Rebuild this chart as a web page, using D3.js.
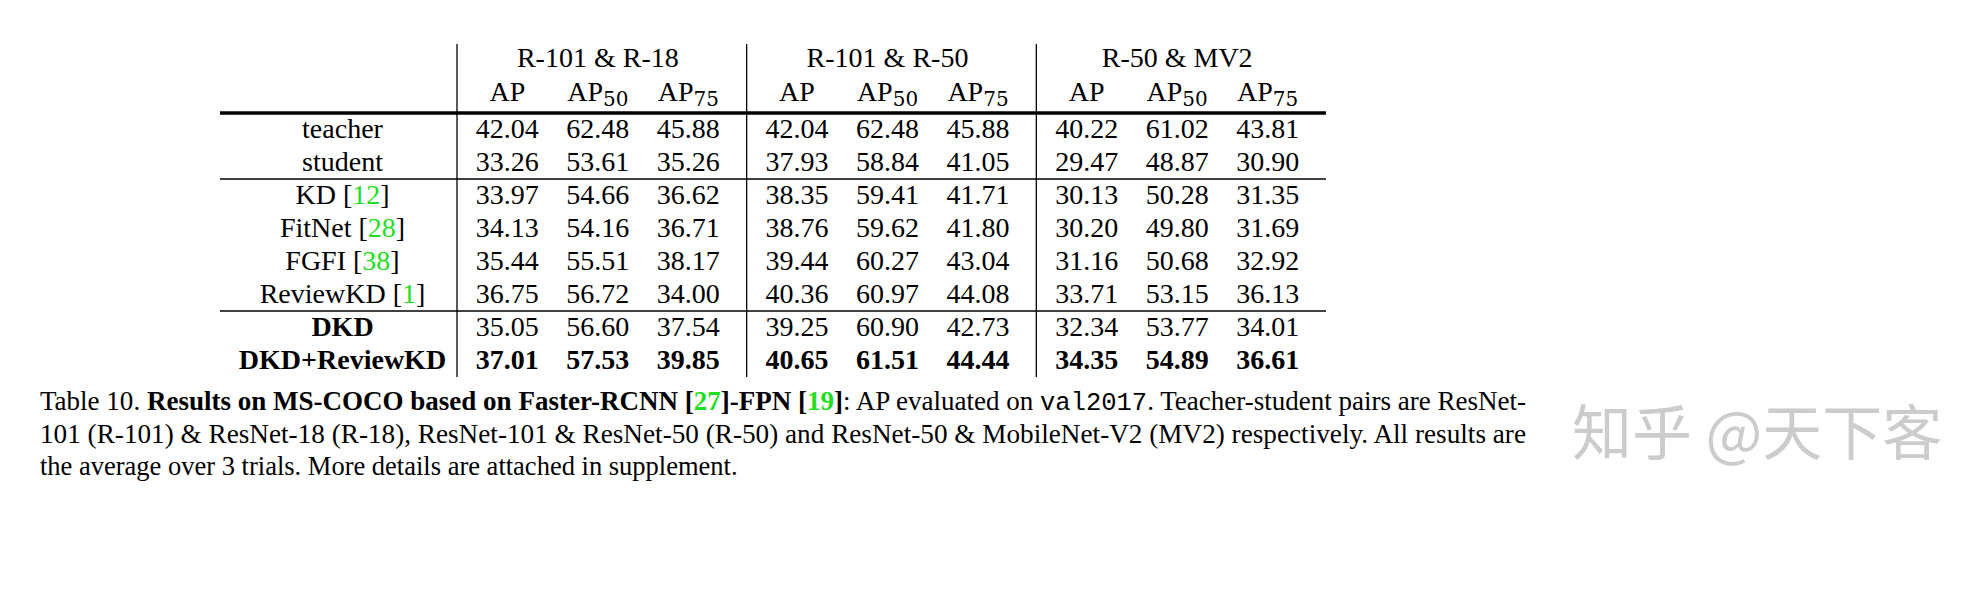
<!DOCTYPE html>
<html lang="en">
<head>
<meta charset="UTF-8" />
<title>Table 10</title>
<script src="https://cdnjs.cloudflare.com/ajax/libs/d3/7.9.0/d3.min.js"></script>
<style>
  body { margin: 0; background: #fff; }
  svg { font-family: "Liberation Serif", "DejaVu Serif", serif; }
  .cell { font-size: 28px; fill: #000; }
  .bold { font-weight: bold; }
  .cite { fill: #22dd22; }
  .cap { font-size: 26.5px; }
  .mono { font-family: "Liberation Mono", monospace; font-size: 25px; }
</style>
</head>
<body>
<svg width="1987" height="615"></svg>
<script>
const groups = ["R-101 & R-18", "R-101 & R-50", "R-50 & MV2"];
const metrics = [["AP", ""], ["AP", "50"], ["AP", "75"]];
const methods = [
  { name: "teacher", cite: "" },
  { name: "student", cite: "" },
  { name: "KD", cite: "12" },
  { name: "FitNet", cite: "28" },
  { name: "FGFI", cite: "38" },
  { name: "ReviewKD", cite: "1" },
  { name: "DKD", cite: "", bold: true },
  { name: "DKD+ReviewKD", cite: "", bold: true }
];
const values = [
  [42.04, 62.48, 45.88, 42.04, 62.48, 45.88, 40.22, 61.02, 43.81],
  [33.26, 53.61, 35.26, 37.93, 58.84, 41.05, 29.47, 48.87, 30.90],
  [33.97, 54.66, 36.62, 38.35, 59.41, 41.71, 30.13, 50.28, 31.35],
  [34.13, 54.16, 36.71, 38.76, 59.62, 41.80, 30.20, 49.80, 31.69],
  [35.44, 55.51, 38.17, 39.44, 60.27, 43.04, 31.16, 50.68, 32.92],
  [36.75, 56.72, 34.00, 40.36, 60.97, 44.08, 33.71, 53.15, 36.13],
  [35.05, 56.60, 37.54, 39.25, 60.90, 42.73, 32.34, 53.77, 34.01],
  [37.01, 57.53, 39.85, 40.65, 61.51, 44.44, 34.35, 54.89, 36.61]
];
const boldRows = [false, false, false, false, false, false, false, true];

const svg = d3.select("svg");
const tableLeft = 220, tableRight = 1326, labelRight = 457;

// one band per teacher-student pair, 3 metric sub-columns inside
const xGroup = d3.scaleBand().domain(d3.range(groups.length)).range([labelRight, tableRight]);
const xSub = d3.scaleBand().domain(d3.range(metrics.length)).range([0, xGroup.bandwidth()]).paddingOuter(0.1);
const colX = (g, m) => xGroup(g) + xSub(m) + xSub.bandwidth() / 2 - 4;

const yRow = d3.scaleBand().domain(d3.range(methods.length)).range([112, 375]);
const rowY = (i) => yRow(i) + yRow.bandwidth() / 2 + 10;

// header
groups.forEach((g, gi) => {
  svg.append("text").attr("class", "cell").attr("x", xGroup(gi) + xGroup.bandwidth() / 2 - 4)
    .attr("y", 67).attr("text-anchor", "middle").text(g);
  metrics.forEach((m, mi) => {
    const t = svg.append("text").attr("class", "cell").attr("x", colX(gi, mi)).attr("y", 101)
      .attr("text-anchor", "middle");
    t.append("tspan").text(m[0]);
    if (m[1]) t.append("tspan").attr("dy", 5).attr("font-size", 20).attr("font-family", "DejaVu Serif").text(m[1]);
  });
});

// rules
svg.append("line").attr("x1", tableLeft).attr("x2", tableRight).attr("y1", 113).attr("y2", 113)
  .attr("stroke", "#000").attr("stroke-width", 3.5);
[179, 311].forEach(y => svg.append("line").attr("x1", tableLeft).attr("x2", tableRight)
  .attr("y1", y).attr("y2", y).attr("stroke", "#000").attr("stroke-width", 1.5));
[labelRight, xGroup(1), xGroup(2)].forEach(x => svg.append("line").attr("x1", x).attr("x2", x)
  .attr("y1", 44).attr("y2", 377).attr("stroke", "#000").attr("stroke-width", 1.3));

// rows
methods.forEach((m, i) => {
  const t = svg.append("text").attr("class", "cell" + (m.bold ? " bold" : ""))
    .attr("x", (tableLeft + labelRight) / 2 + 4).attr("y", rowY(i)).attr("text-anchor", "middle");
  t.append("tspan").text(m.name);
  if (m.cite) {
    t.append("tspan").text(" [");
    t.append("tspan").attr("class", "cite").text(m.cite);
    t.append("tspan").text("]");
  }
  values[i].forEach((v, j) => {
    svg.append("text").attr("class", "cell" + (boldRows[i] ? " bold" : ""))
      .attr("x", colX(Math.floor(j / 3), j % 3)).attr("y", rowY(i)).attr("text-anchor", "middle")
      .text(v.toFixed(2));
  });
});

// caption
const capX = 40, capW = 1486;
const l1 = svg.append("text").attr("class", "cap").attr("x", capX).attr("y", 410)
  .attr("textLength", capW).attr("lengthAdjust", "spacingAndGlyphs");
l1.append("tspan").text("Table 10. ");
l1.append("tspan").attr("font-weight", "bold").text("Results on MS-COCO based on Faster-RCNN [");
l1.append("tspan").attr("class", "cite").attr("font-weight", "bold").text("27");
l1.append("tspan").attr("font-weight", "bold").text("]-FPN [");
l1.append("tspan").attr("class", "cite").attr("font-weight", "bold").text("19");
l1.append("tspan").attr("font-weight", "bold").text("]");
l1.append("tspan").text(": AP evaluated on ");
l1.append("tspan").attr("class", "mono").text("val2017");
l1.append("tspan").text(". Teacher-student pairs are ResNet-");

svg.append("text").attr("class", "cap").attr("x", capX).attr("y", 443)
  .attr("textLength", capW).attr("lengthAdjust", "spacingAndGlyphs")
  .text("101 (R-101) & ResNet-18 (R-18), ResNet-101 & ResNet-50 (R-50) and ResNet-50 & MobileNet-V2 (MV2) respectively. All results are");
svg.append("text").attr("class", "cap").attr("x", capX).attr("y", 475)
  .text("the average over 3 trials. More details are attached in supplement.");

// watermark
svg.append("text").attr("x", 1572).attr("y", 455).attr("font-family", "Noto Sans CJK SC")
  .attr("font-size", 60).attr("fill", "#bbb").attr("opacity", 0.75).text("知乎 @天下客");
</script>
</body>
</html>
